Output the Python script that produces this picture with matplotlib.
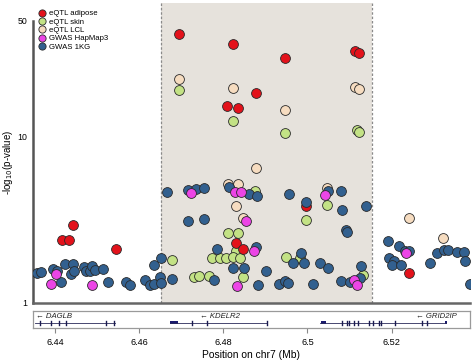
import matplotlib
matplotlib.use("Agg")
import matplotlib.pyplot as plt
from matplotlib.lines import Line2D
from matplotlib.patches import Rectangle

plt.rcParams['font.family'] = ['Liberation Sans', 'DejaVu Sans']

# ---------------- data (position in Mb, -log10 p) ----------------
adipose_x = [6.4695, 6.4823, 6.4946, 6.5114, 6.5122, 6.4877, 6.4809, 6.4835,
             6.4831, 6.4847, 6.4996, 6.4443, 6.4416, 6.4433, 6.4545, 6.5240]
adipose_y = [41.5, 36.5, 30.0, 32.9, 32.2, 18.4, 15.3, 14.95,
             2.31, 2.10, 3.86, 2.93, 2.40, 2.40, 2.11, 1.52]

skin_x = [6.4695, 6.4823, 6.4946, 6.5117, 6.5122, 6.4876, 6.5047, 6.4996,
          6.4810, 6.4836, 6.4831, 6.4679, 6.4773, 6.4792, 6.4806, 6.4823,
          6.4839, 6.4731, 6.4743, 6.4767, 6.4846, 6.4950, 6.4983, 6.5132]
skin_y = [19.1, 12.4, 10.5, 10.96, 10.7, 4.72, 3.91, 3.16,
          2.64, 2.64, 2.05, 1.82, 1.87, 1.87, 1.87, 1.90,
          1.87, 1.44, 1.46, 1.46, 1.43, 1.90, 1.87, 1.48]

lcl_x = [6.4695, 6.4823, 6.4946, 6.5114, 6.5122, 6.4877, 6.4810, 6.4836,
         6.4831, 6.4846, 6.5047, 6.5240, 6.5323]
lcl_y = [22.3, 19.75, 14.6, 19.9, 19.3, 6.49, 5.17, 5.22,
         3.82, 3.25, 4.90, 3.25, 2.46]

hapmap_x = [6.4723, 6.4828, 6.4842, 6.4854, 6.4873, 6.5042, 6.4833, 6.5111,
            6.5118, 6.4402, 6.4390, 6.4489, 6.5234]
hapmap_y = [4.61, 4.67, 4.67, 3.13, 2.06, 4.49, 1.27, 1.37,
            1.29, 1.49, 1.31, 1.28, 2.00]

kg_x = [6.4357, 6.4367, 6.4395, 6.4405, 6.4415, 6.4424, 6.4443, 6.4438,
        6.4445, 6.4470, 6.4474, 6.4483, 6.4489, 6.4496, 6.4514, 6.4525,
        6.4570, 6.4579, 6.4615, 6.4626, 6.4636, 6.4635, 6.4652, 6.4649,
        6.4653, 6.4679,
        6.4667, 6.4715, 6.4734, 6.4753, 6.4814, 6.4862, 6.4881, 6.4956,
        6.4996, 6.5048, 6.5080, 6.5083, 6.5139, 6.4715, 6.4753, 6.5091,
        6.5094, 6.4784, 6.4877, 6.4984, 6.4823, 6.4850, 6.4902, 6.4965,
        6.4992, 6.5029, 6.5048, 6.5126, 6.4777, 6.4882, 6.4932, 6.4946,
        6.4953, 6.5014, 6.5080, 6.5100, 6.5124,
        6.5192, 6.5218, 6.5231, 6.5242, 6.5194, 6.5205, 6.5200, 6.5222,
        6.5291, 6.5307, 6.5324, 6.5333, 6.5354, 6.5372, 6.5375, 6.5386]
kg_y = [1.51, 1.54, 1.60, 1.56, 1.34, 1.71, 1.71, 1.49,
        1.56, 1.65, 1.56, 1.56, 1.66, 1.58, 1.60, 1.34,
        1.34, 1.28, 1.38, 1.28, 1.31, 1.69, 1.87, 1.44,
        1.32, 1.39,
        4.69, 4.79, 4.86, 4.92, 4.96, 4.54, 4.39, 4.54,
        4.08, 4.71, 4.73, 3.64, 3.86, 3.13, 3.21, 2.74,
        2.69, 2.12, 2.18, 2.00, 1.63, 1.62, 1.56, 1.75,
        1.73, 1.74, 1.63, 1.66, 1.38, 1.28, 1.30, 1.35,
        1.32, 1.31, 1.35, 1.33, 1.41,
        2.37, 2.19, 2.07, 2.06, 1.86, 1.79, 1.69, 1.69,
        1.73, 2.01, 2.08, 2.08, 2.03, 2.03, 1.79, 1.31]

region = [6.4652, 6.5154]
xlim = [6.4348, 6.5386]
ylim = [1, 64]
yticks = [1, 10, 50]
xticks = [6.44, 6.46, 6.48, 6.50, 6.52]
xticklabels = ["6.44", "6.46", "6.48", "6.5", "6.52"]

# gene models
genes = ["DAGLB", "KDELR2", "GRID2IP"]
gene_spans = [(6.4352, 6.4543), (6.4673, 6.4904), (6.5029, 6.5329)]
gene_label_x = [6.4355, 6.4744, 6.5257]
small_exons = [6.4364, 6.4390, 6.4410, 6.4426, 6.4521, 6.4540,
               6.4725, 6.4761, 6.4904,
               6.5083, 6.5093, 6.5099, 6.5111, 6.5120, 6.5147, 6.5155,
               6.5169, 6.5174, 6.5208, 6.5271, 6.5283]
big_exons = [(6.4673, 6.4692), (6.5031, 6.5045), (6.5326, 6.5332)]

c_adipose = "#e3121b"
c_skin = "#c3e285"
c_lcl = "#f6dcc0"
c_hapmap = "#ec45e6"
c_kg = "#32608f"
edge = "#2a2a2a"

W, H = 474, 362
fig = plt.figure(figsize=(W / 100, H / 100), dpi=100)
ax = fig.add_axes([33 / W, 1 - 303 / H, (470 - 33) / W, (303 - 3) / H])
gax = fig.add_axes([33 / W, 1 - 328 / H, (470 - 33) / W, (328 - 311) / H])

ax.set_yscale("log")
ax.set_xlim(xlim)
ax.set_ylim(ylim)
ax.axvspan(region[0], region[1], color="#e6e2dc", zorder=0, lw=0)
for xv in region:
    ax.axvline(xv, color="#8a8a8a", ls=(0, (2, 1.5)), lw=0.9, zorder=1)

kw = dict(s=50, edgecolors=edge, linewidths=0.6, zorder=3)
ax.scatter(lcl_x, lcl_y, c=c_lcl, **kw)
ax.scatter(skin_x, skin_y, c=c_skin, **kw)
ax.scatter(adipose_x, adipose_y, c=c_adipose, **kw)
ax.scatter(kg_x, kg_y, c=c_kg, **kw)
ax.scatter(hapmap_x, hapmap_y, c=c_hapmap, **kw)

for s in ["top", "right"]:
    ax.spines[s].set_visible(False)
ax.spines["left"].set_bounds(1, 50)
ax.spines["left"].set_color("#555555")
ax.spines["left"].set_linewidth(1.8)
ax.spines["bottom"].set_color("#666666")
ax.spines["bottom"].set_linewidth(1.8)
ax.set_yticks(yticks)
ax.set_yticklabels([str(v) for v in yticks])
ax.yaxis.set_minor_locator(matplotlib.ticker.NullLocator())
ax.tick_params(axis="y", length=0, pad=4, labelsize=6.3)
ax.set_xticks([])
ax.set_ylabel("-log$_{10}$(p-value)", fontsize=7)
ax.yaxis.set_label_coords(-0.042, 0.47)

handles = [Line2D([], [], marker="o", ls="", markersize=5.2, markerfacecolor=c,
                  markeredgecolor=edge, markeredgewidth=0.6)
           for c in [c_adipose, c_skin, c_lcl, c_hapmap, c_kg]]
labels = ["eQTL adipose", "eQTL skin", "eQTL LCL", "GWAS HapMap3", "GWAS 1KG"]
ax.legend(handles, labels, loc="upper left", bbox_to_anchor=(0.0, 0.99),
          frameon=False, fontsize=5.6, handletextpad=0.4, labelspacing=0.12,
          borderpad=0.2, handlelength=1.2, borderaxespad=0.3)

# gene track
gax.set_xlim(xlim)
gax.set_ylim(0, 1)
gax.set_yticks([])
for s in gax.spines.values():
    s.set_color("#9a9a9a")
    s.set_linewidth(0.9)
line_y = 0.32
for (a, b) in gene_spans:
    gax.plot([a, b], [line_y, line_y], color="#2a2a5a", lw=0.6)
for xe in small_exons:
    gax.plot([xe, xe], [line_y - 0.12, line_y + 0.12], color="#1a1a50", lw=1.0)
for (a, b) in big_exons:
    gax.add_patch(Rectangle((a, line_y - 0.1), b - a, 0.2, color="#1a1a6e", lw=0))
for g, xg in zip(genes, gene_label_x):
    gax.text(xg, 0.68, "\u2190 " + g, fontsize=5.6, style="italic",
             va="center", ha="left", color="#222222")
gax.set_xticks(xticks)
gax.set_xticklabels(xticklabels)
gax.tick_params(axis="x", length=3.5, width=0.8, color="#888888", pad=4,
                labelsize=6.6)
gax.set_xlabel("Position on chr7 (Mb)", fontsize=7.4, labelpad=2)

fig.savefig("out.png", dpi=100)
